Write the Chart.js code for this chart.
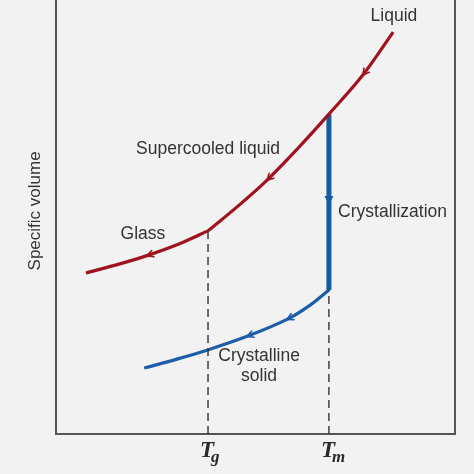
<!DOCTYPE html>
<html><head><meta charset="utf-8">
<script src="https://cdn.jsdelivr.net/npm/chart.js@4"></script>
<style>html,body{margin:0;padding:0;background:#f2f2f2;}#wrap{width:474px;height:474px;}</style>
</head><body><div id="wrap"><canvas id="c" width="474" height="474"></canvas></div>
<script>
// Temperature (x, 0-100) and specific volume (y, 0-100)
const glassT  = [7.5, 16.0, 22.8, 31.1, 38.1];
const glassV  = [37.1, 39.2, 41.1, 43.9, 46.8];
const liquidT = [38.1, 45.6, 52.9, 60.7, 68.4, 76.9, 84.5];
const liquidV = [46.8, 52.5, 58.5, 65.9, 73.7, 82.7, 92.6];
const solidT  = [22.1, 30.1, 37.8, 47.9, 57.9, 63.7, 68.4];
const solidV  = [15.2, 17.2, 19.3, 22.5, 26.4, 29.7, 33.2];
const Tg = 38.1, Tm = 68.4;
const tickTemps = [Tg, Tm];
const tickLabels = [['T', 'g'], ['T', 'm']];
const yTitle = 'Specific volume';

const pts = (xs, ys) => xs.map((v, i) => ({x: v, y: ys[i]}));
const RED = '#a0121e', BLUE = '#1d5ea8', BLUE2 = '#155aa3', DASH = '#333333', TXT = '#333333';

const labels = [
  {text: 'Liquid', t: 84.7, v: 96.3, align: 'center'},
  {text: 'Supercooled liquid', t: 38.1, v: 65.7, align: 'center'},
  {text: 'Glass', t: 21.8, v: 46.1, align: 'center'},
  {text: 'Crystallization', t: 70.7, v: 51.2, align: 'left'},
  {text: 'Crystalline', t: 50.9, v: 18.0, align: 'center'},
  {text: 'solid', t: 50.9, v: 13.4, align: 'center'}
];
const arrows = [
  {ds: 3, i: 2, color: RED}, {ds: 4, i: 2, color: RED}, {ds: 4, i: 5, color: RED},
  {ds: 2, i: 3, color: BLUE}, {ds: 2, i: 4, color: BLUE}
];

function chevron(ctx, px, py, dx, dy, color, len, ang) {
  const L = Math.hypot(dx, dy); dx /= L; dy /= L;
  ctx.strokeStyle = color; ctx.lineWidth = 1.6; ctx.lineCap = 'round';
  ctx.beginPath();
  for (const s of [1, -1]) {
    const c = Math.cos(s * ang), sn = Math.sin(s * ang);
    const bx = -(dx * c - dy * sn), by = -(dx * sn + dy * c);
    ctx.moveTo(px, py); ctx.lineTo(px + bx * len, py + by * len);
  }
  ctx.stroke();
}

const deco = {
  id: 'deco',
  afterDatasetsDraw(chart) {
    const {ctx, chartArea: a, scales: {x, y}} = chart;
    ctx.save();
    // right frame line
    ctx.strokeStyle = '#555'; ctx.lineWidth = 2;
    ctx.beginPath(); ctx.moveTo(a.right, a.top); ctx.lineTo(a.right, a.bottom + 1); ctx.stroke();
    // direction arrows on curves
    for (const ar of arrows) {
      const els = chart.getDatasetMeta(ar.ds).data;
      const p = els[ar.i], p0 = els[ar.i - 1], p1 = els[ar.i + 1];
      chevron(ctx, p.x, p.y, p0.x - p1.x, p0.y - p1.y, ar.color, 7, 0.5);
    }
    // crystallization arrow (down)
    const vx = x.getPixelForValue(Tm);
    const vy = (y.getPixelForValue(liquidV[4]) + y.getPixelForValue(solidV[solidV.length - 1])) / 2;
    ctx.fillStyle = BLUE2;
    ctx.beginPath(); ctx.moveTo(vx - 4.5, vy - 6); ctx.lineTo(vx + 4.5, vy - 6); ctx.lineTo(vx, vy + 3); ctx.closePath(); ctx.fill();
    // text labels
    ctx.fillStyle = TXT; ctx.font = '17.5px "Liberation Sans", Arial, sans-serif'; ctx.textBaseline = 'middle';
    for (const l of labels) {
      ctx.textAlign = l.align;
      ctx.fillText(l.text, x.getPixelForValue(l.t), y.getPixelForValue(l.v));
    }
    // axis title
    ctx.save();
    ctx.translate(a.left - 21, y.getPixelForValue(51.4));
    ctx.rotate(-Math.PI / 2);
    ctx.textAlign = 'center';
    ctx.font = '17px "Liberation Sans", Arial, sans-serif';
    ctx.fillText(yTitle, 0, 0);
    ctx.restore();
    // Tg / Tm tick labels
    ctx.fillStyle = '#2a2a2a'; ctx.textBaseline = 'alphabetic';
    tickTemps.forEach((t, k) => {
      const px = x.getPixelForValue(t);
      ctx.textAlign = 'center';
      ctx.font = 'italic bold 23px "Liberation Serif", "DejaVu Serif", serif';
      ctx.fillText(tickLabels[k][0], px - 1, a.bottom + 23);
      ctx.textAlign = 'left';
      ctx.font = 'italic bold 17px "Liberation Serif", "DejaVu Serif", serif';
      ctx.fillText(tickLabels[k][1], px + 3, a.bottom + 28);
    });
    ctx.restore();
  }
};

new Chart(document.getElementById('c'), {
  type: 'scatter',
  data: {
    datasets: [
      {data: [{x: Tg, y: 0}, {x: Tg, y: glassV[glassV.length - 1]}], showLine: true, borderColor: DASH, borderWidth: 1.4, borderDash: [8, 5], pointRadius: 0},
      {data: [{x: Tm, y: 0}, {x: Tm, y: solidV[solidV.length - 1]}], showLine: true, borderColor: DASH, borderWidth: 1.4, borderDash: [8, 5], pointRadius: 0},
      {data: pts(solidT, solidV), showLine: true, borderColor: BLUE, borderWidth: 3.2, pointRadius: 0, tension: 0.35},
      {data: pts(glassT, glassV), showLine: true, borderColor: RED, borderWidth: 3.2, pointRadius: 0, tension: 0.35},
      {data: pts(liquidT, liquidV), showLine: true, borderColor: RED, borderWidth: 3.2, pointRadius: 0, tension: 0.35},
      {data: [{x: Tm, y: liquidV[4]}, {x: Tm, y: solidV[solidV.length - 1]}], showLine: true, borderColor: BLUE2, borderWidth: 5, pointRadius: 0}
    ]
  },
  options: {
    responsive: false, animation: false, devicePixelRatio: 1,
    layout: {padding: {left: 56, right: 19, top: 0, bottom: 40}},
    plugins: {legend: {display: false}, tooltip: {enabled: false}},
    scales: {
      x: {type: 'linear', min: 0, max: 100, grid: {display: false, drawTicks: false}, ticks: {display: false}, border: {display: true, color: '#555', width: 2}},
      y: {type: 'linear', min: 0, max: 100, grid: {display: false, drawTicks: false}, ticks: {display: false}, border: {display: true, color: '#555', width: 2}}
    }
  },
  plugins: [deco]
});
</script></body></html>
